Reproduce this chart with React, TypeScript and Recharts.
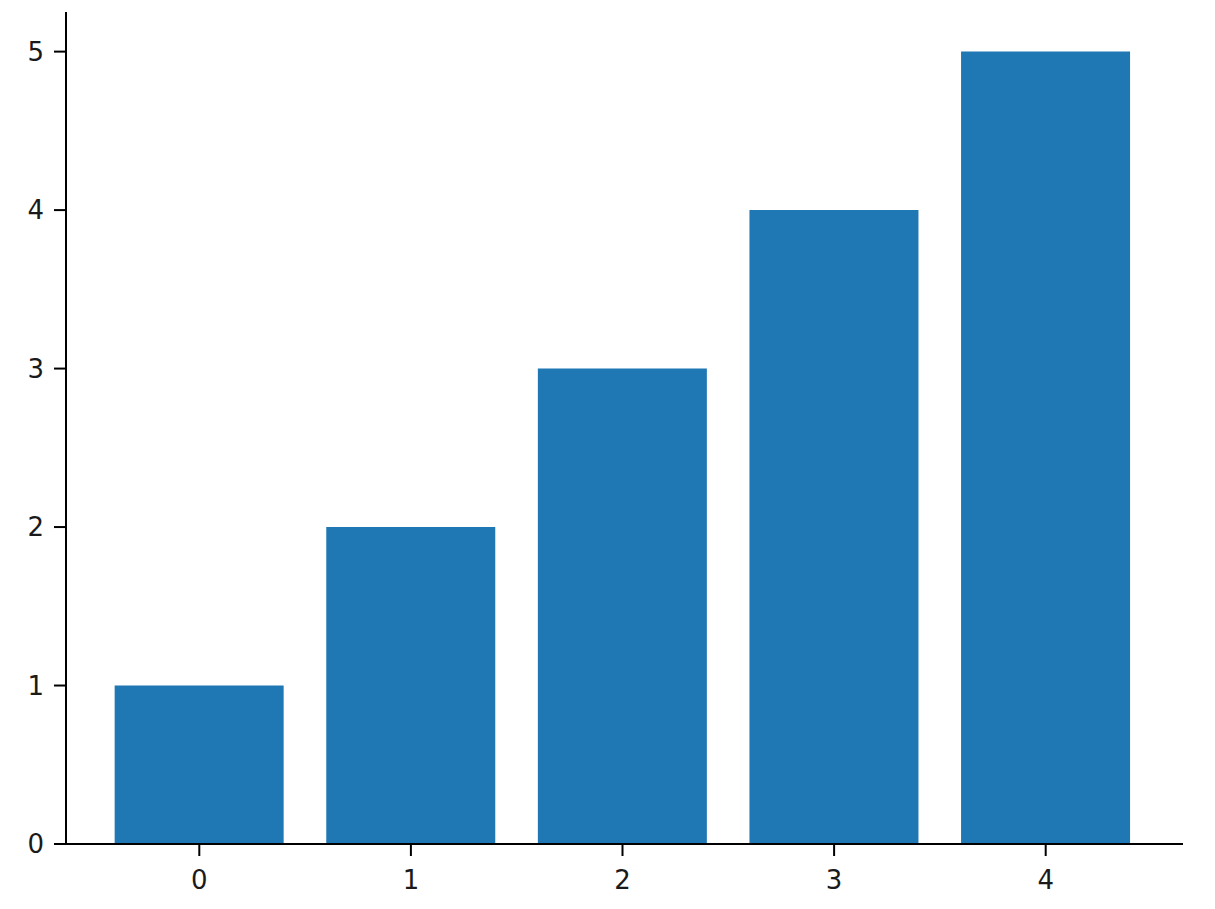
import { BarChart, Bar, XAxis, YAxis } from 'recharts'

const categories = ['0', '1', '2', '3', '4']
const values = [1, 2, 3, 4, 5]
const yTicks = [0, 1, 2, 3, 4, 5]

const data = categories.map((label, i) => ({ label, value: values[i] }))

const tickStyle = {
  fontSize: 26,
  fontFamily: 'DejaVu Sans',
  fill: '#1a1a1a',
}

export default function App() {
  return (
    <div style={{ width: 1200, height: 893 }}>
      <BarChart
        width={1200}
        height={893}
        data={data}
        margin={{ top: 4, right: 25, left: 0, bottom: 0 }}
        barCategoryGap="10%"
      >
        <XAxis
          dataKey="label"
          height={57}
          padding={{ left: 27.5, right: 31.5 }}
          tick={tickStyle}
          tickSize={12}
          tickMargin={15}
          axisLine={{ stroke: '#000', strokeWidth: 2 }}
          tickLine={{ stroke: '#000', strokeWidth: 2 }}
        />
        <YAxis
          width={58}
          domain={[0, 5.25]}
          ticks={yTicks}
          allowDataOverflow
          tick={tickStyle}
          tickSize={12}
          tickMargin={10}
          axisLine={{ stroke: '#000', strokeWidth: 2 }}
          tickLine={{ stroke: '#000', strokeWidth: 2 }}
        />
        <Bar dataKey="value" fill="#1f77b4" isAnimationActive={false} />
      </BarChart>
    </div>
  )
}
